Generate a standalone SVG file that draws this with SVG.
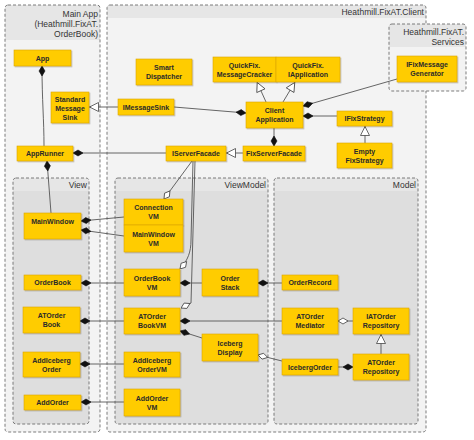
<svg xmlns="http://www.w3.org/2000/svg" width="474" height="440" viewBox="0 0 474 440">
<defs>
<style>
.box{stroke:#6e6e6e;stroke-width:0.9;stroke-dasharray:3 2}
.outer{fill:#f3f3f3}
.inner{fill:#dedede}
.hdr{fill:#e6e6e6}
.t{font-family:"Liberation Sans",Arial,sans-serif;font-size:8.5px;fill:#333;text-anchor:end}
.nd rect{fill:#ffcc00;stroke:#d9a400;stroke-width:0.6;filter:url(#sh)}
.nd text{font-family:"Liberation Sans",Arial,sans-serif;font-size:7px;font-weight:bold;fill:#2a2a2a;text-anchor:middle}
.c path{fill:none;stroke:#555;stroke-width:0.9}
.fd{marker-start:url(#fd)}
.hd{marker-start:url(#hd)}
.tr{marker-start:url(#tr)}
</style>
<filter id="sh" x="-10%" y="-10%" width="130%" height="140%">
<feDropShadow dx="1" dy="1" stdDeviation="0.4" flood-color="#000" flood-opacity="0.25"/>
</filter>
<marker id="fd" markerUnits="userSpaceOnUse" markerWidth="12" markerHeight="8" refX="0" refY="4" orient="auto" viewBox="0 0 12 8">
<path d="M0,4 L5,1 L10,4 L5,7 Z" fill="#111" stroke="#111" stroke-width="0.6"/>
</marker>
<marker id="hd" markerUnits="userSpaceOnUse" markerWidth="12" markerHeight="8" refX="0" refY="4" orient="auto" viewBox="0 0 12 8">
<path d="M0,4 L5,1 L10,4 L5,7 Z" fill="#fff" stroke="#444" stroke-width="0.8"/>
</marker>
<marker id="tr" markerUnits="userSpaceOnUse" markerWidth="12" markerHeight="12" refX="0" refY="6" orient="auto" viewBox="0 0 12 12">
<path d="M0.5,6 L9.5,1.5 L9.5,10.5 Z" fill="#fff" stroke="#444" stroke-width="0.8"/>
</marker>
</defs>
<rect width="474" height="440" fill="#ffffff"/>

<g id="containers">
<g id="mainapp">
<rect class="outer" x="5" y="5" width="95" height="427" rx="3"/>
<path class="hdr" d="M5,8 a3,3 0 0 1 3,-3 h89 a3,3 0 0 1 3,3 v32 h-95 z"/>
<rect class="box" x="5" y="5" width="95" height="427" rx="3" fill="none"/>
<text class="t" x="98" y="17">Main App</text>
<text class="t" x="98" y="27">(Heathmill.FixAT.</text>
<text class="t" x="98" y="37">OrderBook)</text>
</g>
<g id="client">
<rect class="outer" x="107" y="5" width="319" height="427" rx="3"/>
<path class="hdr" d="M107,8 a3,3 0 0 1 3,-3 h313 a3,3 0 0 1 3,3 v10 h-319 z"/>
<rect class="box" x="107" y="5" width="319" height="427" rx="3" fill="none"/>
<text class="t" x="424" y="15">Heathmill.FixAT.Client</text>
</g>
<g id="services">
<rect class="outer" x="389" y="24" width="77" height="67" rx="3"/>
<path class="hdr" d="M389,27 a3,3 0 0 1 3,-3 h71 a3,3 0 0 1 3,3 v20 h-77 z"/>
<rect class="box" x="389" y="24" width="77" height="67" rx="3" fill="none"/>
<text class="t" x="464" y="35">Heathmill.FixAT.</text>
<text class="t" x="464" y="45">Services</text>
</g>
<g id="view">
<rect class="inner" x="13" y="178" width="76" height="246" rx="3"/>
<path class="hdr" d="M13,181 a3,3 0 0 1 3,-3 h70 a3,3 0 0 1 3,3 v10 h-76 z"/>
<rect class="box" x="13" y="178" width="76" height="246" rx="3" fill="none"/>
<text class="t" x="87" y="188">View</text>
</g>
<g id="viewmodel">
<rect class="inner" x="115" y="178" width="153" height="246" rx="3"/>
<path class="hdr" d="M115,181 a3,3 0 0 1 3,-3 h147 a3,3 0 0 1 3,3 v10 h-153 z"/>
<rect class="box" x="115" y="178" width="153" height="246" rx="3" fill="none"/>
<text class="t" x="266" y="188">ViewModel</text>
</g>
<g id="model">
<rect class="inner" x="274" y="178" width="144" height="246" rx="3"/>
<path class="hdr" d="M274,181 a3,3 0 0 1 3,-3 h138 a3,3 0 0 1 3,3 v10 h-144 z"/>
<rect class="box" x="274" y="178" width="144" height="246" rx="3" fill="none"/>
<text class="t" x="416" y="188">Model</text>
</g>
</g>

<g id="connectors" class="c">
<path class="fd" d="M42,66 C42,100 44,120 44,146"/>
<path class="fd" d="M47,161 L51,213"/>
<path class="fd" d="M73,153 L166,153"/>
<path class="tr" d="M89,107 L118,107"/>
<path class="fd" d="M246,113 L174,107"/>
<path class="tr" d="M257,82 L266,102"/>
<path class="tr" d="M295,82 L283,102"/>
<path class="fd" d="M303,106 L397,79"/>
<path class="fd" d="M303,116 L337,116"/>
<path class="tr" d="M365,126 L365,143"/>
<path class="fd" d="M274,146 L274,128"/>
<path class="tr" d="M226,153 L243,153"/>
<path class="hd" d="M164,199 L192,161"/>
<path class="hd" d="M180,269 C188,260 191,252 191,240 L193,161"/>
<path class="hd" d="M181,308 L191,303 L195,161"/>
<path class="fd" d="M81,221 L124,217"/>
<path class="fd" d="M81,230 L124,236"/>
<path class="fd" d="M81,283 L124,283"/>
<path class="fd" d="M180,283 L202,283"/>
<path class="fd" d="M258,283 L282,283"/>
<path class="fd" d="M80,321 L124,321"/>
<path class="fd" d="M180,321 L282,321"/>
<path class="fd" d="M180,331 L202,338"/>
<path class="hd" d="M258,355 L282,361"/>
<path class="hd" d="M338,321 L353,321"/>
<path class="tr" d="M381,334 L381,354"/>
<path class="fd" d="M353,367 L338,367"/>
<path class="fd" d="M80,364 L124,364"/>
<path class="fd" d="M81,402 L124,402"/>
</g>

<g id="App" class="nd"><rect x="14" y="50" width="57" height="16"/><text x="42.5" y="60.5">App</text></g>
<g id="StandardMessageSink" class="nd"><rect x="51" y="92" width="38" height="31"/><text x="70" y="101.5">Standard</text><text x="70" y="110.5">Message</text><text x="70" y="119.5">Sink</text></g>
<g id="AppRunner" class="nd"><rect x="17" y="146" width="56" height="15"/><text x="45" y="156">AppRunner</text></g>
<g id="SmartDispatcher" class="nd"><rect x="136" y="59" width="56" height="26"/><text x="164" y="70">Smart</text><text x="164" y="79">Dispatcher</text></g>
<g id="MessageCracker" class="nd"><rect x="213" y="57" width="63" height="25"/><text x="244.5" y="67.5">QuickFix.</text><text x="244.5" y="76.5">MessageCracker</text></g>
<g id="IApplication" class="nd"><rect x="276" y="57" width="64" height="25"/><text x="308" y="67.5">QuickFix.</text><text x="308" y="76.5">IApplication</text></g>
<g id="IMessageSink" class="nd"><rect x="118" y="99" width="56" height="16"/><text x="146" y="109.5">IMessageSink</text></g>
<g id="ClientApplication" class="nd"><rect x="246" y="102" width="57" height="26"/><text x="274.5" y="113">Client</text><text x="274.5" y="122">Application</text></g>
<g id="IServerFacade" class="nd"><rect x="166" y="146" width="60" height="15"/><text x="196" y="156">IServerFacade</text></g>
<g id="FixServerFacade" class="nd"><rect x="243" y="146" width="62" height="15"/><text x="274" y="156">FixServerFacade</text></g>
<g id="IFixMessageGenerator" class="nd"><rect x="397" y="56" width="60" height="26"/><text x="427" y="67">IFixMessage</text><text x="427" y="76">Generator</text></g>
<g id="IFixStrategy" class="nd"><rect x="337" y="111" width="55" height="15"/><text x="364.5" y="121">IFixStrategy</text></g>
<g id="EmptyFixStrategy" class="nd"><rect x="337" y="143" width="55" height="25"/><text x="364.5" y="153.5">Empty</text><text x="364.5" y="162.5">FixStrategy</text></g>

<g id="MainWindow" class="nd"><rect x="24" y="213" width="57" height="26"/><text x="52.5" y="223.5">MainWindow</text></g>
<g id="OrderBook" class="nd"><rect x="24" y="275" width="57" height="15"/><text x="52.5" y="285">OrderBook</text></g>
<g id="ATOrderBook" class="nd"><rect x="23" y="307" width="57" height="26"/><text x="51.5" y="318">ATOrder</text><text x="51.5" y="327">Book</text></g>
<g id="AddIcebergOrder" class="nd"><rect x="23" y="352" width="57" height="25"/><text x="51.5" y="362.5">AddIceberg</text><text x="51.5" y="371.5">Order</text></g>
<g id="AddOrder" class="nd"><rect x="24" y="395" width="57" height="15"/><text x="52.5" y="405">AddOrder</text></g>

<g id="ConnectionVM" class="nd"><rect x="124" y="199" width="59" height="26"/><text x="153.5" y="210">Connection</text><text x="153.5" y="219">VM</text></g>
<g id="MainWindowVM" class="nd"><rect x="124" y="225" width="59" height="27"/><text x="153.5" y="236.5">MainWindow</text><text x="153.5" y="245.5">VM</text></g>
<g id="OrderBookVM" class="nd"><rect x="124" y="269" width="56" height="27"/><text x="152" y="280.5">OrderBook</text><text x="152" y="289.5">VM</text></g>
<g id="OrderStack" class="nd"><rect x="202" y="269" width="56" height="27"/><text x="230" y="280.5">Order</text><text x="230" y="289.5">Stack</text></g>
<g id="ATOrderBookVM" class="nd"><rect x="124" y="308" width="56" height="26"/><text x="152" y="319">ATOrder</text><text x="152" y="328">BookVM</text></g>
<g id="IcebergDisplay" class="nd"><rect x="202" y="334" width="56" height="27"/><text x="230" y="345.5">Iceberg</text><text x="230" y="354.5">Display</text></g>
<g id="AddIcebergOrderVM" class="nd"><rect x="124" y="352" width="56" height="25"/><text x="152" y="362.5">AddIceberg</text><text x="152" y="371.5">OrderVM</text></g>
<g id="AddOrderVM" class="nd"><rect x="124" y="389" width="56" height="27"/><text x="152" y="400.5">AddOrder</text><text x="152" y="409.5">VM</text></g>

<g id="OrderRecord" class="nd"><rect x="282" y="275" width="56" height="15"/><text x="310" y="285">OrderRecord</text></g>
<g id="ATOrderMediator" class="nd"><rect x="282" y="308" width="56" height="26"/><text x="310" y="319">ATOrder</text><text x="310" y="328">Mediator</text></g>
<g id="IATOrderRepository" class="nd"><rect x="353" y="308" width="56" height="26"/><text x="381" y="319">IATOrder</text><text x="381" y="328">Repository</text></g>
<g id="IcebergOrder" class="nd"><rect x="282" y="359" width="56" height="16"/><text x="310" y="369.5">IcebergOrder</text></g>
<g id="ATOrderRepository" class="nd"><rect x="353" y="354" width="56" height="26"/><text x="381" y="365">ATOrder</text><text x="381" y="374">Repository</text></g>
</svg>
